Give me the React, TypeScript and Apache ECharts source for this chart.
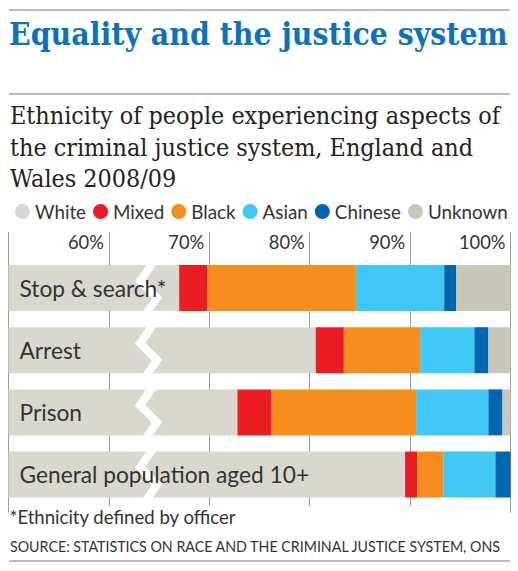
import React, { useEffect, useRef } from "react";
import * as echarts from "echarts";

// ---- texts ----
const titleText = "Equality and the justice system";
const subtitleLines = [
  "Ethnicity of people experiencing aspects of",
  "the criminal justice system, England and",
  "Wales 2008/09",
];
const footnoteText = "*Ethnicity defined by officer";
const sourceText = "SOURCE: STATISTICS ON RACE AND THE CRIMINAL JUSTICE SYSTEM, ONS";

// ---- data ----
const categories = ["Stop & search*", "Arrest", "Prison", "General population aged 10+"];
const ethnicities = ["White", "Mixed", "Black", "Asian", "Chinese", "Unknown"];
const whiteValues = [67.0, 80.6, 72.8, 89.5];
const mixedValues = [2.8, 2.8, 3.4, 1.2];
const blackValues = [14.8, 7.6, 14.4, 2.6];
const asianValues = [8.8, 5.4, 7.2, 5.2];
const chineseValues = [1.2, 1.4, 1.4, 1.5];
const unknownValues = [5.4, 2.2, 0.8, 0.0];
const seriesValues = [whiteValues, mixedValues, blackValues, asianValues, chineseValues, unknownValues];
const xMin = 50;
const xMax = 100;
const xStep = 10;
const breakValue = 64; // where the truncated bars are visually broken

// ---- styles ----
const colors = ["#d9d8cf", "#ec1c24", "#f68e1f", "#40c7f4", "#0066b2", "#c9c8b8"];
const SANS = "Lato";
const SERIF = '"DejaVu Serif"';
const TEXT = "#333333";
const GRID_COLOR = "#9a9a9a";
const BAR_WIDTH = 46;
const ZIGZAG = [
  [4.7, -4],
  [-9, 16],
  [8, 33],
  [-3.8, 50],
];

function makeMeasurer() {
  const ctx = document.createElement("canvas").getContext("2d") as CanvasRenderingContext2D;
  return (t: string, font: string) => {
    ctx.font = font;
    return ctx.measureText(t).width;
  };
}

export default function App() {
  const ref = useRef<HTMLDivElement>(null);

  useEffect(() => {
    if (!ref.current) return;
    const chart = echarts.init(ref.current, undefined, { renderer: "svg" });
    const tw = makeMeasurer();

    const barFs = (23 * 147) / tw(categories[0], `23px ${SANS}`);
    const tickFs = (19 * 46.6) / tw("100%", `19px ${SANS}`);
    const legendFs =
      (19 * 338) / ethnicities.reduce((s, n) => s + tw(n, `19px ${SANS}`), 0);
    const footFs = (19 * 227) / tw(footnoteText, `19px ${SANS}`);
    const titleFs = 32;
    const titleScale = 499 / tw(titleText, `bold ${titleFs}px ${SERIF}`);
    const subFs = 23.5;
    const subScale = 490 / tw(subtitleLines[0], `${subFs}px ${SERIF}`);
    const srcFs = 15.5;
    const srcScale = 492 / tw(sourceText, `${srcFs}px ${SANS}`);

    const subBaselines = [124, 156, 187.3];

    const rule = (y: number) => ({
      type: "line",
      shape: { x1: 9, y1: y, x2: 510, y2: y },
      style: { stroke: "#a5a5a5", lineWidth: 1.3 },
      silent: true,
    });

    const graphic: any[] = [
      rule(10),
      rule(94),
      rule(561),
      {
        type: "text",
        x: 9,
        y: 45 - 0.346 * titleFs,
        scaleX: titleScale,
        style: {
          text: titleText,
          fill: "#0b72bb",
          font: `bold ${titleFs}px ${SERIF}`,
          textAlign: "left",
          textVerticalAlign: "middle",
        },
        silent: true,
      },
      ...subtitleLines.map((line, i) => ({
        type: "text",
        x: 10,
        y: subBaselines[i] - 0.346 * subFs,
        scaleX: subScale,
        style: {
          text: line,
          fill: "#222222",
          font: `${subFs}px ${SERIF}`,
          textAlign: "left",
          textVerticalAlign: "middle",
        },
        silent: true,
      })),
      {
        type: "text",
        x: 9.5,
        y: 524.3 - 0.387 * footFs,
        style: {
          text: footnoteText,
          fill: TEXT,
          font: `${footFs}px ${SANS}`,
          textAlign: "left",
          textVerticalAlign: "middle",
        },
        silent: true,
      },
      {
        type: "text",
        x: 10,
        y: 551.7 - 0.387 * srcFs,
        scaleX: srcScale,
        style: {
          text: sourceText,
          fill: TEXT,
          font: `${srcFs}px ${SANS}`,
          textAlign: "left",
          textVerticalAlign: "middle",
        },
        silent: true,
      },
    ];

    const barSeries = ethnicities.map((name, i) => ({
      name,
      type: "bar",
      stack: "total",
      barWidth: BAR_WIDTH,
      data: seriesValues[i],
      itemStyle: { color: colors[i] },
      emphasis: { disabled: true },
      silent: true,
      z: 2,
    }));

    const breakSeries = {
      name: "break",
      type: "custom",
      silent: true,
      z: 3,
      data: categories.map((_, i) => [breakValue, i]),
      encode: { x: 0, y: 1 },
      renderItem: (_params: any, api: any) => {
        const c = api.coord([api.value(0), api.value(1)]);
        const top = c[1] - BAR_WIDTH / 2;
        const points = ZIGZAG.map(([dx, dy]) => [c[0] + dx, top + dy]);
        return {
          type: "polyline",
          shape: { points },
          style: { stroke: "#ffffff", lineWidth: 8, fill: null, lineJoin: "miter" },
          silent: true,
        };
      },
    };

    chart.setOption({
      animation: false,
      color: colors,
      graphic,
      legend: {
        data: ethnicities,
        left: 10,
        top: 197,
        icon: "circle",
        itemWidth: 15,
        itemHeight: 15,
        itemGap: 7,
        selectedMode: false,
        textStyle: { fontSize: legendFs, color: TEXT, fontFamily: SANS },
      },
      grid: { left: 8.5, right: 7.5, top: 257, bottom: 65.4, containLabel: false },
      xAxis: [
        {
          type: "value",
          position: "top",
          min: xMin,
          max: xMax,
          interval: xStep,
          axisLine: { show: false },
          axisTick: { show: true, length: 25, lineStyle: { color: GRID_COLOR, width: 1 } },
          axisLabel: {
            formatter: (v: number) => (v === xMin ? "" : `${v}%`),
            align: "right",
            padding: [0, 5, 0, 0],
            margin: 6,
            fontSize: tickFs,
            color: TEXT,
            fontFamily: SANS,
          },
          splitLine: { show: true, lineStyle: { color: GRID_COLOR, width: 1 } },
        },
        {
          type: "value",
          position: "bottom",
          min: xMin,
          max: xMax,
          interval: xStep,
          axisLine: { show: false },
          axisLabel: { show: false },
          splitLine: { show: false },
          axisTick: {
            show: true,
            length: 7,
            customValues: [xMin, xMax],
            lineStyle: { color: GRID_COLOR, width: 1 },
          },
        },
      ],
      yAxis: {
        type: "category",
        data: categories,
        inverse: true,
        z: 10,
        axisLine: { show: false },
        axisTick: { show: false },
        splitLine: { show: false },
        axisLabel: {
          inside: true,
          margin: 11,
          fontSize: barFs,
          color: TEXT,
          fontFamily: SANS,
        },
      },
      series: [...barSeries, breakSeries],
    });

    return () => chart.dispose();
  }, []);

  return (
    <div
      ref={ref}
      style={{ position: "fixed", left: 0, top: 0, width: 518, height: 571, background: "#ffffff" }}
    />
  );
}
